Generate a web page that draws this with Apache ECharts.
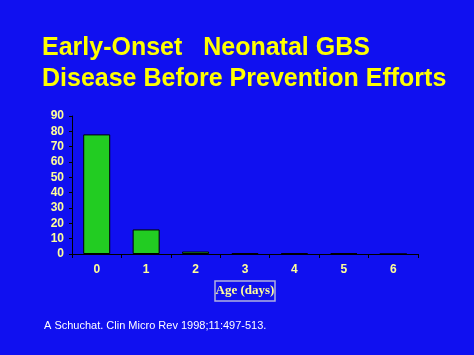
<!DOCTYPE html>
<html><head><meta charset="utf-8">
<script src="https://cdn.jsdelivr.net/npm/echarts@6/dist/echarts.min.js"></script>
<style>html,body{margin:0;padding:0;background:#1010f0;}#c{width:474px;height:355px;}</style>
</head><body><div id="c"></div>
<script>
var categories = ['0','1','2','3','4','5','6'];
var values = [78, 16, 1.6, 0.5, 0.5, 0.5, 0];
var yTicks = [0,10,20,30,40,50,60,70,80,90];
var titleLines = ['Early-Onset   Neonatal GBS', 'Disease Before Prevention Efforts'];
var xName = 'Age (days)';
var citation = 'A Schuchat. Clin Micro Rev 1998;11:497-513.';

var chart = echarts.init(document.getElementById('c'));
chart.setOption({
  backgroundColor: '#1010f0',
  animation: false,
  title: [{
    text: titleLines.join('\n'),
    left: 37, top: 28,
    textStyle: {color: '#ffff00', fontFamily: 'Liberation Sans, Arial', fontWeight: 'bold', fontSize: 25, lineHeight: 31,
      textShadowColor: '#000040', textShadowOffsetX: 2, textShadowOffsetY: 2, textShadowBlur: 0}
  }],
  graphic: [{
    type: 'text', left: 44, top: 320,
    style: {text: citation, fill: '#ffffff', font: '11px Liberation Sans, Arial'}
  }, {
    type: 'rect', shape: {x: 215, y: 281, width: 60, height: 20},
    style: {fill: 'none', stroke: '#b0b0e0', lineWidth: 1.5}
  }, {
    type: 'text', x: 245, y: 291,
    style: {text: xName, fill: '#ffff99', font: 'bold 13px Liberation Serif, Times New Roman', align: 'center', verticalAlign: 'middle'}
  }],
  grid: {left: 72, right: 56, top: 116, bottom: 101},
  xAxis: {
    type: 'category', data: categories,
    axisLine: {lineStyle: {color: '#000000', width: 1}},
    axisTick: {show: true, alignWithLabel: false, length: 4, lineStyle: {color: '#000000'}},
    axisLabel: {color: '#ffff99', fontWeight: 'bold', fontSize: 12, fontFamily: 'Liberation Sans, Arial', margin: 10}
  },
  yAxis: {
    type: 'value', min: 0, max: 90, interval: 10,
    axisLine: {show: true, lineStyle: {color: '#000000'}},
    axisTick: {show: true, length: 3, lineStyle: {color: '#000000'}},
    splitLine: {show: false},
    axisLabel: {color: '#ffff99', fontWeight: 'bold', fontSize: 12, fontFamily: 'Liberation Sans, Arial', margin: 8,
      formatter: function(v){ return yTicks.indexOf(v) >= 0 ? String(v) : ''; }}
  },
  series: [{
    type: 'bar', data: values, barWidth: 27,
    itemStyle: {color: '#22cc22', borderColor: '#000000', borderWidth: 1}
  }]
});
</script></body></html>
